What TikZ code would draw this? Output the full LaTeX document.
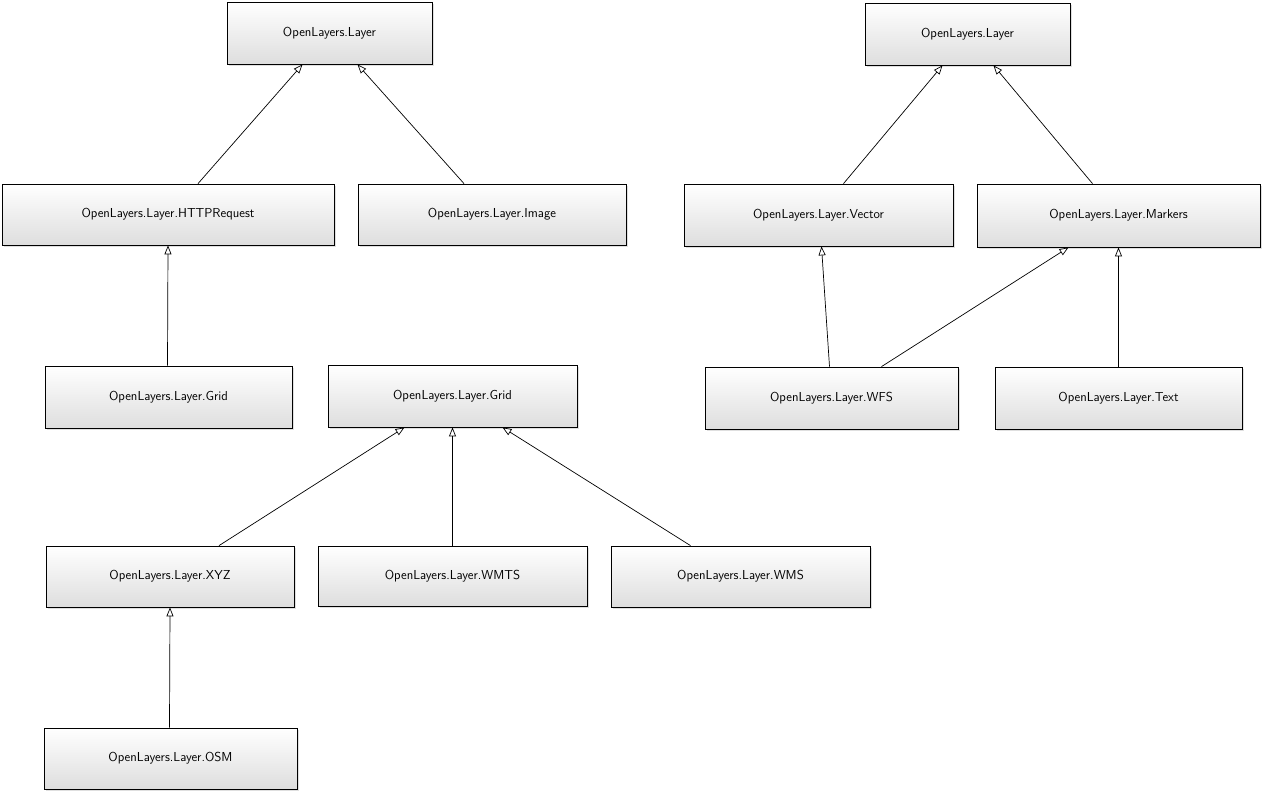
\documentclass[tikz,border=0pt]{standalone}
\usetikzlibrary{arrows.meta,shadows,calc}
\begin{document}
\begin{tikzpicture}[x=1pt,y=-1pt,
  cls/.style={draw=black,line width=0.8pt,top color=white,bottom color=black!13,
    drop shadow={shadow xshift=2pt,shadow yshift=-2pt,opacity=0.25},
    font=\sffamily\fontsize{13}{15}\selectfont,inner sep=0pt},
  inh/.style={line width=0.7pt,-{Triangle[open,length=9pt,width=7pt]}}]
\useasboundingbox (0,0) rectangle (1265,793);
\newcommand{\cls}[6]{\node[cls,minimum width=#4-#2,minimum height=#5-#3] (#1) at ({(#2+#4)/2},{(#3+#5)/2}) {\raisebox{3pt}{#6}};}
\cls{la}{227}{2}{432}{64}{OpenLayers.Layer}
\cls{http}{2}{184}{334}{245}{OpenLayers.Layer.HTTPRequest}
\cls{img}{358}{184}{626}{245}{OpenLayers.Layer.Image}
\cls{gl}{45}{366}{292}{428}{OpenLayers.Layer.Grid}
\cls{gm}{328}{365}{577}{427}{OpenLayers.Layer.Grid}
\cls{xyz}{46}{546}{294}{607}{OpenLayers.Layer.XYZ}
\cls{wmts}{318}{546}{587}{606}{OpenLayers.Layer.WMTS}
\cls{wms}{611}{546}{870}{607}{OpenLayers.Layer.WMS}
\cls{osm}{44}{728}{297}{789}{OpenLayers.Layer.OSM}
\cls{lb}{865}{3}{1070}{65}{OpenLayers.Layer}
\cls{vec}{684}{184}{953}{246}{OpenLayers.Layer.Vector}
\cls{mk}{977}{184}{1260}{247}{OpenLayers.Layer.Markers}
\cls{wfs}{705}{367}{958}{429}{OpenLayers.Layer.WFS}
\cls{txt}{995}{367}{1242}{429}{OpenLayers.Layer.Text}
\draw[inh] ([xshift=30]http.north) -- ([xshift=-27]la.south);
\draw[inh] ([xshift=-28]img.north) -- ([xshift=28]la.south);
\draw[inh] ([xshift=-1]gl.north) -- ([xshift=0]http.south);
\draw[inh] ([xshift=49]xyz.north) -- ([xshift=-48]gm.south);
\draw[inh] ([xshift=0]wmts.north) -- ([xshift=0]gm.south);
\draw[inh] ([xshift=-50]wms.north) -- ([xshift=50]gm.south);
\draw[inh] ([xshift=-1]osm.north) -- ([xshift=0]xyz.south);
\draw[inh] ([xshift=25]vec.north) -- ([xshift=-25]lb.south);
\draw[inh] ([xshift=-26]mk.north) -- ([xshift=26]lb.south);
\draw[inh] ([xshift=-2]wfs.north) -- ([xshift=3]vec.south);
\draw[inh] ([xshift=50]wfs.north) -- ([xshift=-50]mk.south);
\draw[inh] (txt.north) -- (txt.north |- mk.south);
\end{tikzpicture}
\end{document}
